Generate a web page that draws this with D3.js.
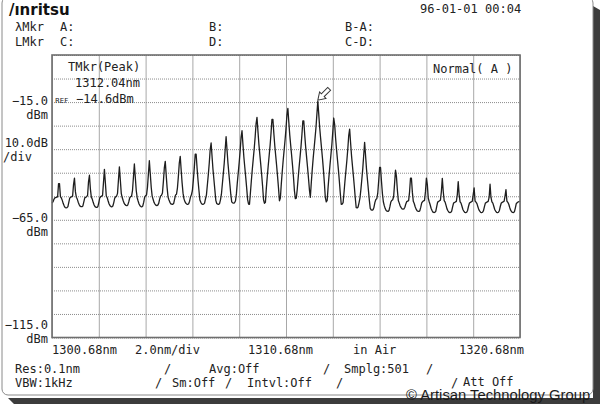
<!DOCTYPE html>
<html>
<head>
<meta charset="utf-8">
<script src="https://cdn.jsdelivr.net/npm/d3@7"></script>
<style>
  body { margin: 0; background: #fff; }
  svg { display: block; font-family: "DejaVu Sans Mono", monospace; }
</style>
</head>
<body>
<svg id="chart" width="600" height="404"></svg>
<script>
// sweep settings
const waveStart = 1300.68, waveStop = 1320.68;
const levelTop = 5, levelBottom = -115;
const yLabelValues = [-15, -65, -115];
const sampling = 501;

// longitudinal modes: centre (nm), peak (dBm), shoulder (dBm), trough to the right (dBm)
const modeWavelength = [1300.33, 1300.98, 1301.63, 1302.27, 1302.92, 1303.56, 1304.20, 1304.84,
    1305.51, 1306.15, 1306.82, 1307.47, 1308.12, 1308.79, 1309.43, 1310.10, 1310.75, 1311.42,
    1312.04, 1312.73, 1313.39, 1314.04, 1314.70, 1315.37, 1316.02, 1316.69, 1317.36, 1318.04,
    1318.71, 1319.40, 1320.07, 1320.72];
const modePeak = [-48.0, -47.1, -46.0, -44.8, -43.6, -42.5, -41.3, -39.9,
    -38.9, -36.8, -34.6, -31.1, -29.7, -25.9, -20.2, -19.8, -16.4, -20.4,
    -14.6, -20.5, -25.2, -32.1, -40.2, -42.6, -44.8, -46.0, -47.4, -48.8,
    -50.2, -49.9, -50.9, -52.0];
const modeShoulder = [-55.0, -55.5, -55.3, -55.3, -55.0, -55.0, -55.0, -54.5,
    -54.5, -54.0, -54.0, -54.0, -54.0, -53.5, -53.5, -53.0, -53.0, -53.0,
    -53.0, -53.5, -54.0, -55.0, -56.0, -56.5, -57.0, -57.0, -57.0, -57.5,
    -57.5, -57.5, -57.5, -57.5];
const modeTrough = [-58.0, -60.0, -59.5, -59.8, -59.5, -59.0, -59.5, -59.0,
    -58.5, -58.5, -58.5, -58.5, -58.0, -58.5, -58.0, -57.0, -56.0, -56.5,
    -57.5, -58.5, -60.0, -61.0, -61.5, -60.5, -61.5, -62.0, -62.0, -62.0,
    -62.0, -62.0, -62.0, -62.0];

// shape of the floor between modes (offset in mode spacings -> 0 trough .. 1 shoulder)
const floorShape = [[-0.5, 0], [-0.42, 0.1], [-0.3, 0.9], [-0.2, 1], [-0.08, 1.1], [0, 1.15],
    [0.08, 1.1], [0.18, 0.9], [0.3, 0.3], [0.4, 0.05], [0.5, 0]];
// fall-off of a mode below its peak (offset in mode spacings -> dB)
const spikeDrop = [[0, 0], [0.03, 2.5], [0.065, 6], [0.13, 12], [0.2, 17], [0.3, 24], [0.4, 32], [0.5, 42], [1, 70]];

const marker = {wave: 1312.04, level: -14.6};

const svg = d3.select("#chart");
const plot = {left: 52, right: 520, top: 55, bottom: 337.5};

const x = d3.scaleLinear().domain([waveStart, waveStop]).range([plot.left, plot.right]);
const y = d3.scaleLinear().domain([levelBottom, levelTop]).range([plot.bottom, plot.top]);

const floorScale = d3.scaleLinear().domain(floorShape.map(d => d[0])).range(floorShape.map(d => d[1])).clamp(true);
const dropScale = d3.scaleLinear().domain(spikeDrop.map(d => d[0])).range(spikeDrop.map(d => d[1])).clamp(true);

// frame and shadow
svg.append("path")
    .attr("d", "M593,6 L600,10 L600,404 L14,404 L8,398 L593,398 Z")
    .attr("fill", "#3c3c3c");
svg.append("rect")
    .attr("x", 2).attr("y", -3).attr("width", 591).attr("height", 398).attr("rx", 6)
    .attr("fill", "#fff").attr("stroke", "#8a8a8a").attr("stroke-width", 1);

// grid
const plotW = plot.right - plot.left, plotH = plot.bottom - plot.top;
const gx = svg.append("g").attr("transform", `translate(0,${plot.bottom})`)
    .call(d3.axisBottom(x).tickValues(d3.range(0, 11).map(i => waveStart + 2 * i)).tickSize(plotH).tickFormat(""));
gx.select(".domain").remove();
gx.selectAll("line").attr("stroke", "#a8a8a8").attr("transform", `translate(0,${-plotH})`);

const gy = svg.append("g").attr("transform", `translate(${plot.left},0)`)
    .call(d3.axisRight(y).tickValues(d3.range(levelBottom, levelTop + 1, 10)).tickSize(plotW).tickFormat(""));
gy.select(".domain").remove();
gy.selectAll("line").attr("stroke", "#8c8c8c").attr("stroke-dasharray", "1,1");

// trace
const samples = d3.range(sampling).map(i => waveStart + (waveStop - waveStart) * i / (sampling - 1));
const trace = samples.map(w => {
    let i = d3.minIndex(modeWavelength, c => Math.abs(c - w));
    const c = modeWavelength[i];
    const next = modeWavelength[Math.min(i + 1, modeWavelength.length - 1)];
    const prev = modeWavelength[Math.max(i - 1, 0)];
    const off = w >= c ? (w - c) / (next - c || 0.655) : (w - c) / (c - prev || 0.655);
    const trough = off >= 0 ? modeTrough[i] : modeTrough[Math.max(i - 1, 0)];
    let level = trough + floorScale(off) * (modeShoulder[i] - trough);
    for (let k = Math.max(i - 1, 0); k <= Math.min(i + 1, modeWavelength.length - 1); k++) {
        const o = Math.abs(w - modeWavelength[k]) / 0.655;
        level = Math.max(level, modePeak[k] - dropScale(o));
    }
    return [w, level];
});

svg.append("path")
    .datum(trace)
    .attr("fill", "none")
    .attr("stroke", "#1e1e1e")
    .attr("stroke-width", 1.3)
    .attr("stroke-linejoin", "round")
    .attr("d", d3.line().x(d => x(d[0])).y(d => y(d[1])));

// plot border
svg.append("rect")
    .attr("x", plot.left).attr("y", plot.top).attr("width", plotW).attr("height", plotH)
    .attr("fill", "none").attr("stroke", "#6e6e6e").attr("stroke-width", 1.6);

// marker arrow
const mx = x(marker.wave), my = y(marker.level) - 1;
svg.append("path")
    .attr("transform", `translate(${mx},${my}) rotate(-45)`)
    .attr("d", "M0,0 L7,-4.5 L7,-2 L16,-2 L16,2 L7,2 L7,4.5 Z")
    .attr("fill", "#fff").attr("stroke", "#333").attr("stroke-width", 1);

const txt = (t, px, py, opts = {}) => svg.append("text")
    .attr("x", px).attr("y", py)
    .attr("font-size", opts.size || 12)
    .attr("text-anchor", opts.anchor || "start")
    .attr("font-family", opts.family || null)
    .attr("font-weight", opts.weight || null)
    .attr("fill", opts.fill || "#222")
    .text(t);

// header
txt("/ınritsu", 9, 15, {size: 15, weight: "bold", family: "DejaVu Sans", fill: "#111"});
txt("96-01-01 00:04", 420, 13);
txt("λMkr", 15, 31); txt("A:", 60, 31); txt("B:", 209, 31); txt("B-A:", 345, 31);
txt("LMkr", 15, 46); txt("C:", 60, 46); txt("D:", 209, 46); txt("C-D:", 345, 46);

// level labels
yLabelValues.forEach(v => {
    const yy = v === levelBottom ? y(v) - 9 : y(v) + 2.5;
    txt(d3.format(".1f")(v), 48, yy, {anchor: "end"});
    txt("dBm", 48, yy + 14, {anchor: "end"});
});
txt("10.0dB", 48, 147, {anchor: "end"});
txt("/div", 3, 161);

// marker readout
txt("TMkr(Peak)", 68, 71);
txt(d3.format(".2f")(marker.wave) + "nm", 75, 87);
txt(d3.format(".1f")(marker.level) + "dBm", 76, 103);
txt("REF", 55, 103, {size: 7, family: "DejaVu Sans"});
txt("Normal( A )", 433, 73);

// wavelength labels
txt(waveStart.toFixed(2) + "nm", 52, 354);
txt("2.0nm/div", 135, 354);
txt(((waveStart + waveStop) / 2).toFixed(2) + "nm", 248, 354);
txt("in Air", 353, 354);
txt(waveStop.toFixed(2) + "nm", 524, 354, {anchor: "end"});

// settings
txt("Res:0.1nm", 15, 373);
txt("/", 164, 373); txt("Avg:Off", 209, 373); txt("/", 323, 373); txt("Smplg:501", 344, 373); txt("/", 426, 373);
txt("VBW:1kHz", 15, 387);
txt("/", 155, 387); txt("Sm:Off", 172, 387); txt("/", 225, 387); txt("Intvl:Off", 247, 387);
txt("/", 336, 387); txt("/", 451, 387); txt("Att Off", 463, 386);

// watermark
txt("© Artisan Technology Group", 406, 400, {size: 14.8, family: "Liberation Sans", fill: "#1a1a1a"});
</script>
</body>
</html>
